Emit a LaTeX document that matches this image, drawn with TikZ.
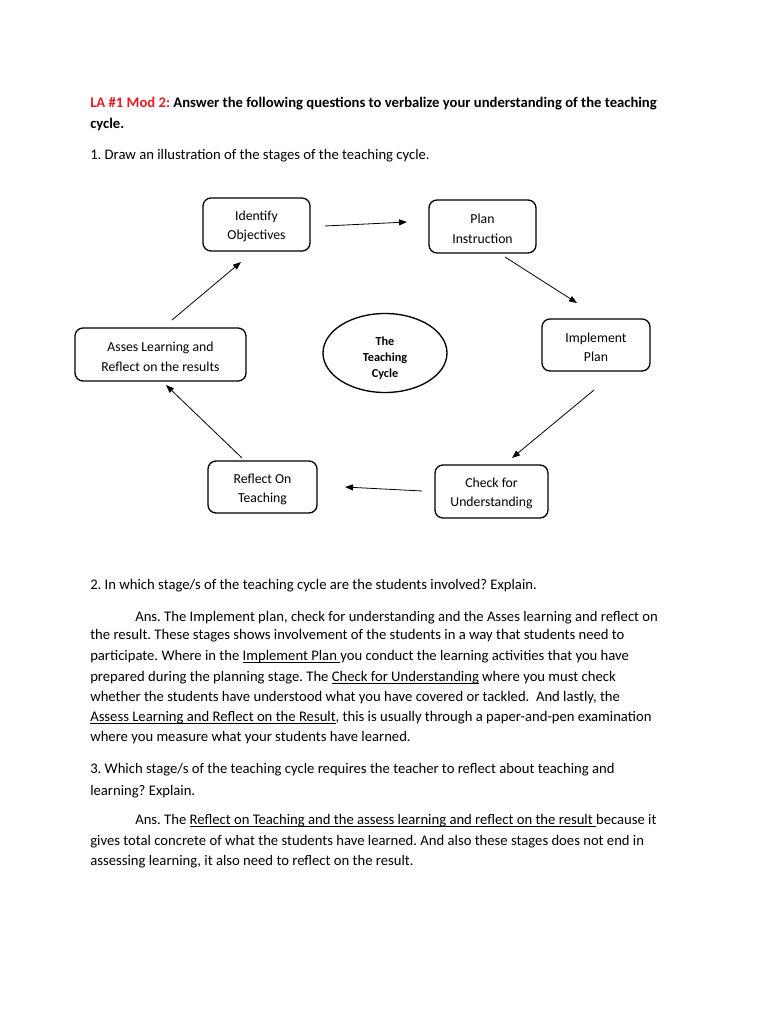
\documentclass[tikz,border=0pt]{standalone}
\usepackage{fontspec}
\setmainfont{Carlito}
\usetikzlibrary{arrows.meta,shapes.geometric}
\definecolor{lared}{RGB}{232,28,36}
\newcommand\myul[1]{\setbox0\hbox{#1}\rlap{\rule[-2.2pt]{\wd0}{0.5pt}}\box0\relax}
\begin{document}
\frenchspacing
\begin{tikzpicture}[x=0.75pt,y=-0.75pt,
  txt/.style={anchor=base west, inner sep=0pt, font=\fontsize{11}{13}\selectfont},
  stage/.style={draw, rounded corners=6pt, line width=1pt, align=center, inner sep=0pt,
    font=\fontsize{10.3}{14.5}\selectfont},
  flow/.style={-{Triangle[length=6pt,width=4.5pt]}, line width=0.6pt}]
\useasboundingbox[fill=white] (0,0) rectangle (768,1024);

% header text
\node[txt] (h1) at (90,108) {{\bfseries\color{lared}LA \#1 Mod 2:} \bfseries Answer the following questions to verbalize your understanding of the teaching};
\node[txt] (h2) at (90,128.5) {\bfseries cycle.};
\node[txt] (q1) at (90,159.5) {1. Draw an illustration of the stages of the teaching cycle.};

% cycle
\node[stage, minimum width=107*0.75pt, minimum height=53*0.75pt] (io) at (256.5,224.5) {\rule{0pt}{10.5pt}Identify\\Objectives};
\node[stage, minimum width=107*0.75pt, minimum height=53*0.75pt] (pi) at (482.5,226.5) {\rule{0pt}{10.5pt}Plan\\Instruction};
\node[stage, minimum width=108*0.75pt, minimum height=52*0.75pt] (ip) at (596,345) {\rule{0pt}{10.5pt}Implement\\Plan};
\node[stage, minimum width=113*0.75pt, minimum height=53*0.75pt] (cu) at (491.5,491.5) {\rule{0pt}{10.5pt}Check for\\Understanding};
\node[stage, minimum width=109*0.75pt, minimum height=52*0.75pt] (rt) at (262.5,487) {\rule{0pt}{10.5pt}Reflect On\\Teaching};
\node[stage, minimum width=171*0.75pt, minimum height=53*0.75pt] (al) at (160.5,354.5) {\rule{0pt}{10.5pt}Asses Learning and\\Reflect on the results};
\node[draw, ellipse, line width=1pt, minimum width=124*0.75pt, minimum height=79*0.75pt, inner sep=0pt] (tc) at (385,353) {};
\node[align=center, inner sep=0pt, font=\bfseries\fontsize{9.2}{12}\selectfont] (tct) at (385,358.5) {The\\Teaching\\Cycle};

\coordinate (a1s) at (325,226); \coordinate (a1e) at (407,222);
\coordinate (a2s) at (505,257); \coordinate (a2e) at (577,303);
\coordinate (a3s) at (594,390); \coordinate (a3e) at (512,458);
\coordinate (a4s) at (422,491); \coordinate (a4e) at (345,487);
\coordinate (a5s) at (242,458); \coordinate (a5e) at (166,385);
\coordinate (a6s) at (172,320); \coordinate (a6e) at (241,262);
\draw[flow] (a1s) -- (a1e);
\draw[flow] (a2s) -- (a2e);
\draw[flow] (a3s) -- (a3e);
\draw[flow] (a4s) -- (a4e);
\draw[flow] (a5s) -- (a5e);
\draw[flow] (a6s) -- (a6e);

% answers
\node[txt] (q2) at (90,589) {2. In which stage/s of the teaching cycle are the students involved? Explain.};
\node[txt] (b1) at (135,621) {Ans. The Implement plan, check for understanding and the Asses learning and reflect on};
\node[txt] (b2) at (90,639) {the result. These stages shows involvement of the students in a way that students need to};
\node[txt] (b3) at (90,660) {participate. Where in the \myul{Implement Plan\ }you conduct the learning activities that you have};
\node[txt] (b4) at (90,681) {prepared during the planning stage. The \myul{Check for Understanding} where you must check};
\node[txt] (b5) at (90,701) {whether the students have understood what you have covered or tackled.\ \ And lastly, the};
\node[txt] (b6) at (90,721) {\myul{Assess Learning and Reflect on the Result}, this is usually through a paper-and-pen examination};
\node[txt] (b7) at (90,741) {where you measure what your students have learned.};
\node[txt] (q3) at (90,773) {3. Which stage/s of the teaching cycle requires the teacher to reflect about teaching and};
\node[txt] (q3b) at (90,795) {learning? Explain.};
\node[txt] (c1) at (135,824) {Ans. The \myul{Reflect on Teaching and the assess learning and reflect on the result\ }because it};
\node[txt] (c2) at (90,845) {gives total concrete of what the students have learned. And also these stages does not end in};
\node[txt] (c3) at (90,865) {assessing learning, it also need to reflect on the result.};
\end{tikzpicture}
\end{document}
